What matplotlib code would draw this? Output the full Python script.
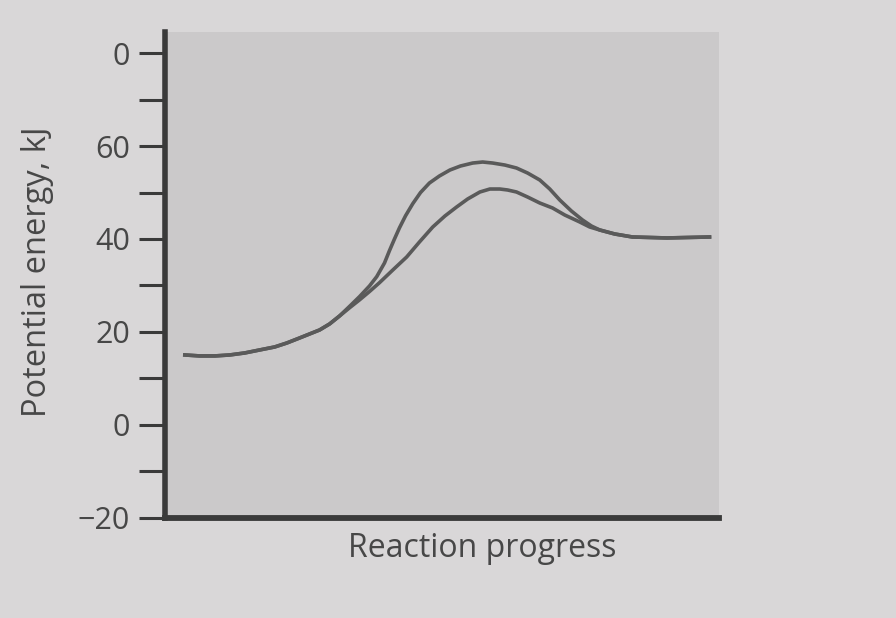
import matplotlib
matplotlib.use("Agg")
import matplotlib.pyplot as plt
from matplotlib.ticker import FixedLocator

plt.rcParams['font.family'] = ['Open Sans', 'DejaVu Sans']

# Reaction progress (arbitrary units) and potential energy (kJ)
x_upper = [3.6, 6.3, 9.0, 11.7, 14.4, 17.1, 19.8, 22.0, 24.3, 26.1, 27.9, 29.7, 31.5,
           33.3, 35.1, 36.9, 38.2, 39.6, 40.5, 41.4, 42.3, 43.4, 44.7, 46.1, 47.7,
           49.5, 51.4, 53.3, 55.5, 57.3, 59.1, 61.3, 63.4, 65.4, 67.6, 69.4, 71.2,
           73.3, 75.3, 76.9, 78.4, 81.1, 84.3, 90.5, 98.2]
y_upper = [15.05, 14.84, 14.84, 15.05, 15.48, 16.13, 16.77, 17.63, 18.71, 19.57,
           20.43, 21.72, 23.44, 25.5, 27.6, 29.9, 31.9, 34.84, 37.5, 40.0,
           42.4, 45.0, 47.6, 50.0, 52.04, 53.55, 54.84, 55.70, 56.34, 56.56,
           56.34, 55.91, 55.27, 54.19, 52.69, 50.75, 48.39, 46.02, 44.09, 42.80,
           41.94, 41.08, 40.43, 40.22, 40.43]

x_lower = [3.6, 6.3, 9.0, 11.7, 14.4, 17.1, 19.8, 22.0, 24.3, 26.1, 27.9, 29.7, 31.5,
           33.3, 35.1, 36.9, 38.7, 41.1, 43.6, 45.9, 48.3, 50.5, 52.6, 54.6, 56.8,
           58.6, 60.4, 61.8, 63.4, 65.4, 67.6, 69.9, 72.1, 74.8, 76.6, 78.4, 81.1,
           84.3, 90.5, 98.2]
y_lower = [15.05, 14.84, 14.84, 15.05, 15.48, 16.13, 16.77, 17.63, 18.71, 19.57,
           20.43, 21.72, 23.44, 25.2, 26.9, 28.7, 30.6, 33.33, 36.13, 39.35,
           42.58, 44.95, 46.88, 48.61, 50.11, 50.75, 50.75, 50.54, 50.11, 49.03,
           47.74, 46.67, 45.16, 43.66, 42.58, 41.94, 41.08, 40.43, 40.22, 40.43]

major_ticks = [-20, 0, 20, 40, 60, 80]
major_labels = ['\u221220', '0', '20', '40', '60', '0']
minor_ticks = [-10, 10, 30, 50, 70]

fig = plt.figure(figsize=(8.96, 6.18), dpi=100, facecolor='#d9d7d8')
ax = fig.add_axes([0.184, 0.162, 0.619, 0.786])
ax.set_facecolor('#cbc9ca')

line_color = '#5a5a5a'
ax.plot(x_upper, y_upper, color=line_color, lw=2.6, solid_joinstyle='round')
ax.plot(x_lower, y_lower, color=line_color, lw=2.6, solid_joinstyle='round')

ax.set_xlim(0, 100)
ax.set_ylim(-20, 84.5)

for s in ['top', 'right']:
    ax.spines[s].set_visible(False)
ax.spines['left'].set_color('#3a3a3a')
ax.spines['left'].set_linewidth(4)
ax.spines['bottom'].set_color('#3a3a3a')
ax.spines['bottom'].set_linewidth(4.2)

ax.yaxis.set_major_locator(FixedLocator(major_ticks))
ax.set_yticklabels(major_labels)
ax.yaxis.set_minor_locator(FixedLocator(minor_ticks))
ax.tick_params(axis='y', which='both', direction='out', length=19, width=2.2,
               color='#3a3a3a', labelsize=22, labelcolor='#474747', pad=6)
ax.set_xticks([])

ax.set_xlabel('Reaction progress', fontsize=23, color='#474747')
ax.xaxis.set_label_coords(0.573, -0.03)
ax.set_ylabel('Potential energy, kJ', fontsize=23.5, color='#474747')
ax.yaxis.set_label_coords(-0.2, 0.506)

fig.savefig('out.png', dpi=100, facecolor=fig.get_facecolor())
